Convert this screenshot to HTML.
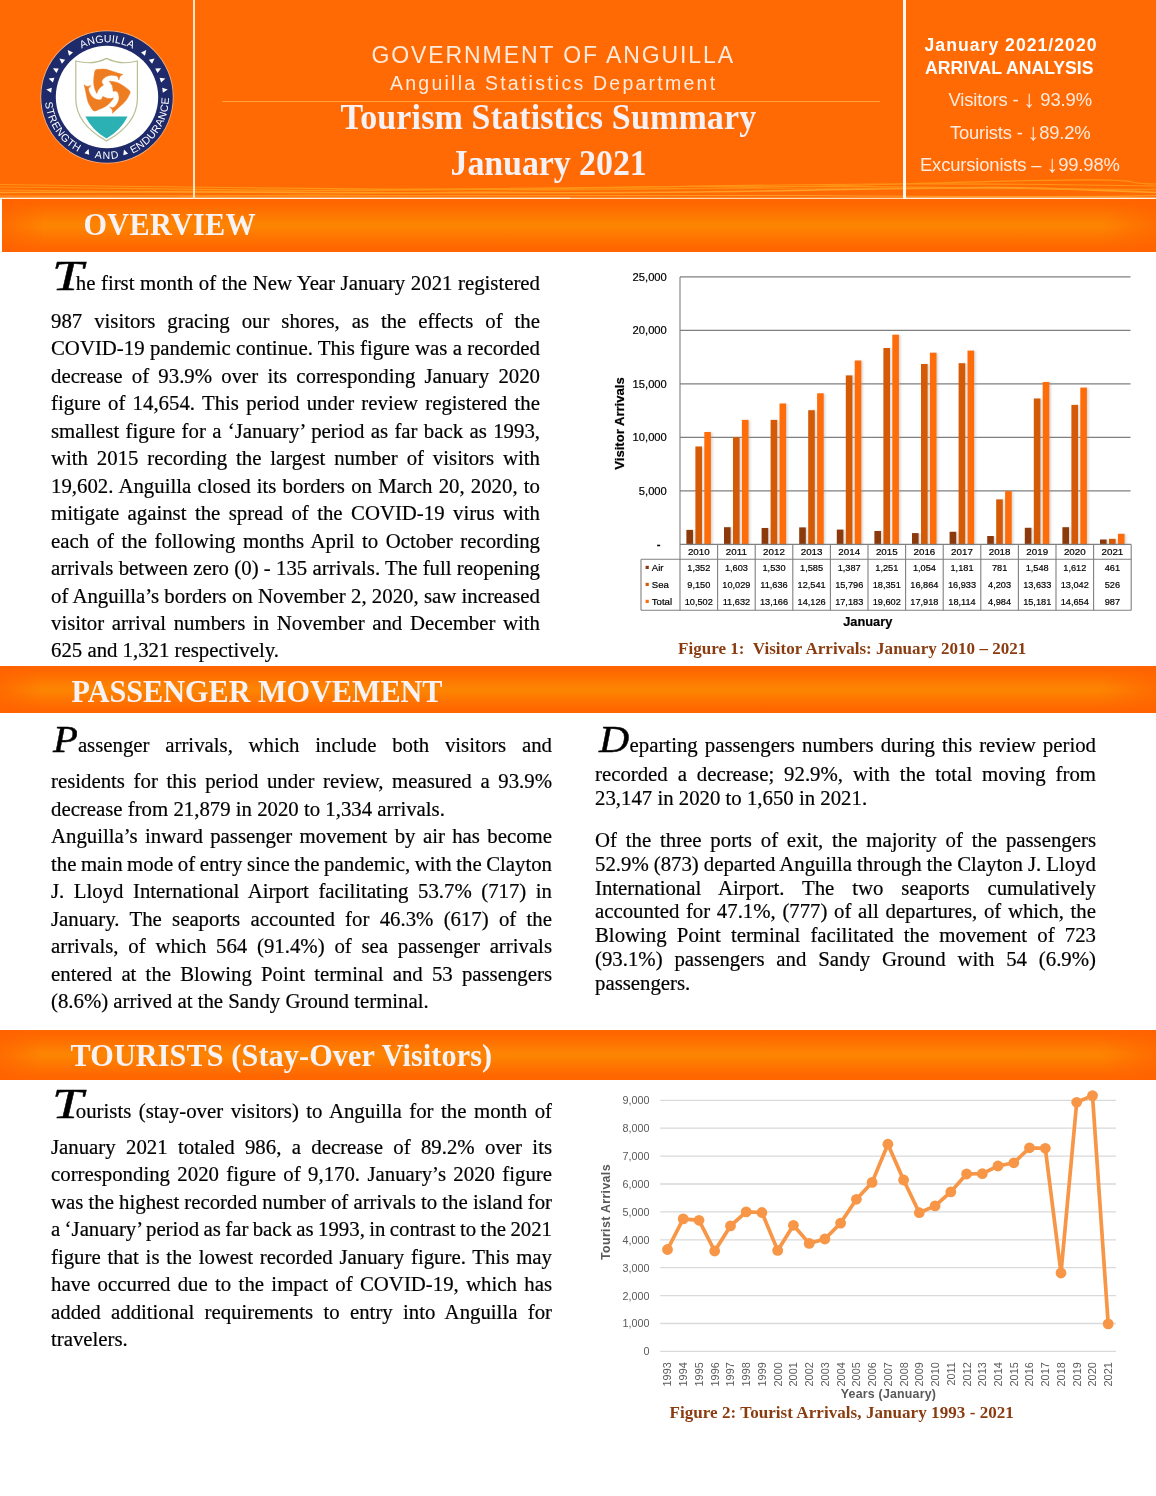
<!DOCTYPE html>
<html lang="en"><head><meta charset="utf-8"><title>Tourism Statistics Summary January 2021</title>
<style>
html,body{margin:0;padding:0;background:#fff;}
h1,h2,p,figure,figcaption{margin:0;padding:0;font-weight:normal;}
body{width:1156px;height:1496px;position:relative;overflow:hidden;font-family:"Liberation Serif",serif;color:#000;}
.abs{position:absolute;}
.hdr{left:0;top:0;width:1156px;height:199px;background:#FF6A05;}
.band{left:0;width:1156px;background:
  linear-gradient(to right, rgba(255,98,0,.7) 0px, rgba(255,98,0,0) 42px, rgba(255,98,0,0) 1100px, rgba(255,98,0,.7) 1156px),
  linear-gradient(to bottom, #FF6600 0%, #FF6600 8%, #FD8302 46%, #FD8302 54%, #FF6600 92%, #FF6600 100%);}
.bt{font-weight:bold !important;color:#F7F3F5;font-size:30.2px;line-height:36px;white-space:nowrap;}
.ln{display:block;font-size:20.8px;line-height:24px;height:24px;white-space:nowrap;-webkit-text-stroke:.2px #000;}
.dc{font-style:italic;-webkit-text-stroke:.45px #000;display:inline-block;line-height:0;transform-origin:0 100%;}
.sans{font-family:"Liberation Sans","DejaVu Sans",sans-serif;}
.w{color:#fff;white-space:nowrap;}
.ar{font-size:1.3em;line-height:0;position:relative;top:.06em}
.c1 text{stroke:#000;stroke-width:.2px}
.cap{font-weight:bold !important;color:#8A3C10;font-size:17px;line-height:20px;white-space:nowrap;}
</style></head>
<body>
<div class="abs hdr"></div>
<svg class="abs" style="left:0;top:170px" width="1156" height="32" viewBox="0 0 1156 32">
<g fill="none" stroke="#FF9C18" stroke-width="1.1" opacity=".85">
<path d="M0 17 C150 18 300 23 560 18.5 S 900 12 1156 16"/>
<path d="M0 20 C250 24 420 18 700 16.5 S 1050 21 1156 19"/>
<path d="M0 22.5 C300 20.5 520 25.5 760 21 S 1000 16 1156 22.5" stroke="#FFA62A" stroke-width="1.6"/>
<path d="M0 26 C200 26.5 500 23.5 800 25.5 S 1100 26.5 1156 25.5" stroke="#FFA62A"/>
<path d="M0 14.5 C300 19 600 23 900 14 S 1100 13.5 1156 14"/>
<path d="M180 26.5 C400 24 700 14 1156 20" opacity=".6"/>
</g>
<line x1="0" y1="28.5" x2="1156" y2="28.5" stroke="#FFD9A8" stroke-width="1.3"/>
<line x1="0" y1="28.5" x2="570" y2="28.5" stroke="#FFF3E2" stroke-width="1.3"/>
<line x1="905" y1="28.5" x2="1156" y2="28.5" stroke="#FFF3E2" stroke-width="1.3"/>
</svg>
<div class="abs" style="left:193px;top:0;width:2.1px;height:199px;background:#FFE4C2"></div>
<div class="abs" style="left:902.8px;top:0;width:3.1px;height:199px;background:#FFF9EE"></div>
<div class="abs" style="left:222px;top:100.5px;width:658px;height:1px;background:#FFA23C"></div>
<svg class="abs" style="left:37.0px;top:27.4px" width="140" height="140" viewBox="-70 -70 140 140">
<defs><path id="arcTop" d="M -54.60 0 A 54.60 54.60 0 0 1 54.60 0 A 54.60 54.60 0 0 1 -54.60 0"/>
<path id="arcBot" d="M -58.26 -21.21 A 62.00 62.00 0 0 0 58.26 21.21 A 62.00 62.00 0 0 0 -58.26 -21.21"/></defs>
<circle r="66.6" fill="#F4C9A8" opacity=".8"/>
<circle r="65.8" fill="#1E2A6A"/>
<circle r="51.2" fill="#FFFFFF"/>
<g font-family="Liberation Sans, sans-serif" font-size="10.6" fill="#FFFFFF" text-anchor="middle">
<text><textPath href="#arcTop" startOffset="85.77" textLength="53" lengthAdjust="spacing">ANGUILLA</textPath></text>
<text><textPath href="#arcBot" startOffset="57.89" textLength="62.0" lengthAdjust="spacing">STRENGTH</textPath></text>
<text><textPath href="#arcBot" startOffset="118.60" textLength="24.5" lengthAdjust="spacing">AND</textPath></text>
<text><textPath href="#arcBot" startOffset="180.17" textLength="70.5" lengthAdjust="spacing">ENDURANCE</textPath></text>
</g>
<g fill="#FFFFFF">
<path transform="translate(-37.41,-44.58) rotate(320.0)" d="M0 -3.00 L2.55 2.25 L-2.55 2.25 Z"/>
<path transform="translate(37.41,-44.58) rotate(400.0)" d="M0 -3.00 L2.55 2.25 L-2.55 2.25 Z"/>
<path transform="translate(-45.23,-36.63) rotate(309.0)" d="M0 -3.00 L2.55 2.25 L-2.55 2.25 Z"/>
<path transform="translate(45.23,-36.63) rotate(411.0)" d="M0 -3.00 L2.55 2.25 L-2.55 2.25 Z"/>
<path transform="translate(-51.39,-27.32) rotate(298.0)" d="M0 -3.00 L2.55 2.25 L-2.55 2.25 Z"/>
<path transform="translate(51.39,-27.32) rotate(422.0)" d="M0 -3.00 L2.55 2.25 L-2.55 2.25 Z"/>
<path transform="translate(-55.51,-17.50) rotate(287.5)" d="M0 -3.00 L2.55 2.25 L-2.55 2.25 Z"/>
<path transform="translate(55.51,-17.50) rotate(432.5)" d="M0 -3.00 L2.55 2.25 L-2.55 2.25 Z"/>
<path transform="translate(-57.77,-7.09) rotate(277.0)" d="M0 -3.00 L2.55 2.25 L-2.55 2.25 Z"/>
<path transform="translate(57.77,-7.09) rotate(443.0)" d="M0 -3.00 L2.55 2.25 L-2.55 2.25 Z"/>
<path transform="translate(-19.43,54.86) rotate(19.5)" d="M0 -3.00 L2.55 2.25 L-2.55 2.25 Z"/>
<path transform="translate(17.98,55.35) rotate(-18.0)" d="M0 -3.00 L2.55 2.25 L-2.55 2.25 Z"/>
</g>
<path d="M-31.2 -36 Q-14 -31.5 -0.5 -38.6 Q14 -31.5 30.4 -36 L30.4 2 Q30 27 -0.5 44 Q-31 27 -31.2 2 Z" fill="#FFFFFF" stroke="#B7BF92" stroke-width="1.2"/>
<path d="M-21.6 19.5 L20.6 19.5 Q14 33 -0.5 41.6 Q-15 33 -21.6 19.5 Z" fill="#2BB0B4"/>
<g fill="#EE7D22" stroke="#EE7D22" stroke-width=".5" stroke-linejoin="round" transform="translate(-0.5,-6.1)">
<path d="M14.9 -15.7 L16.4 -16.3 L12.1 -17.6 Q7.9 -19.0 3.7 -20.4 Q-0.6 -21.9 -3.7 -21.8 Q-6.8 -21.6 -9.2 -21.6 Q-11.6 -21.6 -11.9 -19.0 Q-12.3 -16.3 -12.7 -12.7 Q-13.0 -9.0 -12.6 -5.7 Q-12.1 -2.4 -10.9 0.1 L-9.7 2.5 L-8.8 0.1 Q-7.8 -2.4 -5.4 -4.2 L-3.0 -6.0 L-4.2 -7.5 Q-5.4 -9.0 -4.2 -10.8 Q-3.0 -12.7 -0.6 -14.2 Q1.8 -15.7 4.9 -15.7 Q7.9 -15.7 9.7 -15.1 Q11.5 -14.5 11.9 -12.7 L12.4 -10.9 L12.9 -13.0 Q13.4 -15.1 14.9 -15.7 Z" transform="rotate(0)"/>
<path d="M14.9 -15.7 L16.4 -16.3 L12.1 -17.6 Q7.9 -19.0 3.7 -20.4 Q-0.6 -21.9 -3.7 -21.8 Q-6.8 -21.6 -9.2 -21.6 Q-11.6 -21.6 -11.9 -19.0 Q-12.3 -16.3 -12.7 -12.7 Q-13.0 -9.0 -12.6 -5.7 Q-12.1 -2.4 -10.9 0.1 L-9.7 2.5 L-8.8 0.1 Q-7.8 -2.4 -5.4 -4.2 L-3.0 -6.0 L-4.2 -7.5 Q-5.4 -9.0 -4.2 -10.8 Q-3.0 -12.7 -0.6 -14.2 Q1.8 -15.7 4.9 -15.7 Q7.9 -15.7 9.7 -15.1 Q11.5 -14.5 11.9 -12.7 L12.4 -10.9 L12.9 -13.0 Q13.4 -15.1 14.9 -15.7 Z" transform="rotate(120)"/>
<path d="M14.9 -15.7 L16.4 -16.3 L12.1 -17.6 Q7.9 -19.0 3.7 -20.4 Q-0.6 -21.9 -3.7 -21.8 Q-6.8 -21.6 -9.2 -21.6 Q-11.6 -21.6 -11.9 -19.0 Q-12.3 -16.3 -12.7 -12.7 Q-13.0 -9.0 -12.6 -5.7 Q-12.1 -2.4 -10.9 0.1 L-9.7 2.5 L-8.8 0.1 Q-7.8 -2.4 -5.4 -4.2 L-3.0 -6.0 L-4.2 -7.5 Q-5.4 -9.0 -4.2 -10.8 Q-3.0 -12.7 -0.6 -14.2 Q1.8 -15.7 4.9 -15.7 Q7.9 -15.7 9.7 -15.1 Q11.5 -14.5 11.9 -12.7 L12.4 -10.9 L12.9 -13.0 Q13.4 -15.1 14.9 -15.7 Z" transform="rotate(240)"/>
</g>
</svg>
<div class="abs w sans" style="left:371.5px;top:39.7px;font-size:23.0px;line-height:30px;letter-spacing:1.90px;color:#FFEBDD">GOVERNMENT OF ANGUILLA</div>
<div class="abs w sans" style="left:390.0px;top:71.4px;font-size:19.5px;line-height:25px;letter-spacing:2.24px;color:#FFEBDD">Anguilla Statistics Department</div>
<h1 class="abs w" style="left:340.5px;top:95.6px;font-size:34.0px;line-height:44px;letter-spacing:0.13px;font-weight:bold;transform:scaleY(1.040);transform-origin:0 33.5px;color:#F6F1F4">Tourism Statistics Summary</h1>
<h1 class="abs w" style="left:450.5px;top:141.5px;font-size:34.0px;line-height:44px;letter-spacing:-0.10px;font-weight:bold;transform:scaleY(1.040);transform-origin:0 33.5px;color:#F6F1F4">January 2021</h1>
<div class="abs w sans" style="left:924.5px;top:34.4px;font-size:17.6px;line-height:23px;letter-spacing:1.03px;font-weight:bold;color:#fff">January 2021/2020</div>
<div class="abs w sans" style="left:925.0px;top:56.9px;font-size:17.6px;line-height:23px;letter-spacing:0.02px;font-weight:bold;color:#fff">ARRIVAL ANALYSIS</div>
<div class="abs w sans" style="left:948.5px;top:87.9px;font-size:18.4px;line-height:24px;letter-spacing:-0.12px;color:#FFEBDD">Visitors - <span class="ar">↓</span> 93.9%</div>
<div class="abs w sans" style="left:950.0px;top:120.6px;font-size:18.4px;line-height:24px;letter-spacing:-0.20px;color:#FFEBDD">Tourists - <span class="ar">↓</span>89.2%</div>
<div class="abs w sans" style="left:920.0px;top:153.0px;font-size:18.4px;line-height:24px;letter-spacing:-0.15px;color:#FFEBDD">Excursionists – <span class="ar">↓</span>99.98%</div>
<div class="abs band" style="top:198.6px;height:53.7px;left:1.5px;width:1154.5px"></div>
<h2 class="abs bt" style="left:83.6px;top:207.2px;letter-spacing:0.30px;transform:scaleY(1.08);transform-origin:0 28.2px">OVERVIEW</h2>
<div class="abs band" style="top:665.5px;height:47.5px;left:0.0px;width:1156.0px"></div>
<h2 class="abs bt" style="left:71.5px;top:673.6px;letter-spacing:0.00px;transform:scaleY(1.08);transform-origin:0 28.2px">PASSENGER MOVEMENT</h2>
<div class="abs band" style="top:1029.5px;height:50.0px;left:0.0px;width:1156.0px"></div>
<h2 class="abs bt" style="left:70.6px;top:1037.6px;letter-spacing:0.12px;transform:scaleY(1.08);transform-origin:0 28.2px">TOURISTS (Stay-Over Visitors)</h2>
<p>
<span class="abs ln" style="left:51.0px;top:271.3px;word-spacing:0.370px"><span><span class="dc" style="font-size:43.0px;width:23.4px;margin-left:1.4px"><span style="display:inline-block;transform:scaleX(1.30);transform-origin:0 0">T</span></span>he first month of the New Year January 2021 registered</span></span>
<span class="abs ln" style="left:51.0px;top:309.0px;word-spacing:6.760px"><span>987 visitors gracing our shores, as the effects of the</span></span>
<span class="abs ln" style="left:51.0px;top:336.4px;word-spacing:0.114px"><span>COVID-19 pandemic continue. This figure was a recorded</span></span>
<span class="abs ln" style="left:51.0px;top:363.9px;word-spacing:4.020px"><span>decrease of 93.9% over its corresponding January 2020</span></span>
<span class="abs ln" style="left:51.0px;top:391.3px;word-spacing:2.121px"><span>figure of 14,654. This period under review registered the</span></span>
<span class="abs ln" style="left:51.0px;top:418.8px;word-spacing:1.181px"><span>smallest figure for a ‘January’ period as far back as 1993,</span></span>
<span class="abs ln" style="left:51.0px;top:446.2px;word-spacing:3.701px"><span>with 2015 recording the largest number of visitors with</span></span>
<span class="abs ln" style="left:51.0px;top:473.7px;word-spacing:0.998px"><span>19,602. Anguilla closed its borders on March 20, 2020, to</span></span>
<span class="abs ln" style="left:51.0px;top:501.1px;word-spacing:3.223px"><span>mitigate against the spread of the COVID-19 virus with</span></span>
<span class="abs ln" style="left:51.0px;top:528.6px;word-spacing:2.359px"><span>each of the following months April to October recording</span></span>
<span class="abs ln" style="left:51.0px;top:556.0px;word-spacing:0.094px"><span>arrivals between zero (0) - 135 arrivals. The full reopening</span></span>
<span class="abs ln" style="left:51.0px;top:583.5px;word-spacing:0.047px"><span>of Anguilla’s borders on November 2, 2020, saw increased</span></span>
<span class="abs ln" style="left:51.0px;top:610.9px;word-spacing:2.451px"><span>visitor arrival numbers in November and December with</span></span>
<span class="abs ln" style="left:51.0px;top:638.4px;word-spacing:0.000px"><span>625 and 1,321 respectively.</span></span>
</p>
<p>
<span class="abs ln" style="left:51.0px;top:732.6px;word-spacing:10.578px"><span><span class="dc" style="font-size:37.0px;width:24.9px;margin-left:2.0px"><span style="display:inline-block;transform:scaleX(1.10);transform-origin:0 0">P</span></span>assenger arrivals, which include both visitors and</span></span>
<span class="abs ln" style="left:51.0px;top:769.3px;word-spacing:3.453px"><span>residents for this period under review, measured a 93.9%</span></span>
<span class="abs ln" style="left:51.0px;top:796.8px;word-spacing:0.000px"><span>decrease from 21,879 in 2020 to 1,334 arrivals.</span></span>
</p><p>
<span class="abs ln" style="left:51.0px;top:824.3px;word-spacing:2.185px"><span>Anguilla’s inward passenger movement by air has become</span></span>
<span class="abs ln" style="left:51.0px;top:851.8px;word-spacing:-0.666px"><span>the main mode of entry since the pandemic, with the Clayton</span></span>
<span class="abs ln" style="left:51.0px;top:879.3px;word-spacing:4.326px"><span>J. Lloyd International Airport facilitating 53.7% (717) in</span></span>
<span class="abs ln" style="left:51.0px;top:906.8px;word-spacing:5.092px"><span>January. The seaports accounted for 46.3% (617) of the</span></span>
<span class="abs ln" style="left:51.0px;top:934.3px;word-spacing:4.586px"><span>arrivals, of which 564 (91.4%) of sea passenger arrivals</span></span>
<span class="abs ln" style="left:51.0px;top:961.8px;word-spacing:4.002px"><span>entered at the Blowing Point terminal and 53 passengers</span></span>
<span class="abs ln" style="left:51.0px;top:989.3px;word-spacing:0.000px"><span>(8.6%) arrived at the Sandy Ground terminal.</span></span>
</p>
<p>
<span class="abs ln" style="left:595.0px;top:732.9px;word-spacing:1.885px"><span><span class="dc" style="font-size:37.0px;width:30.7px;margin-left:3.9px"><span style="display:inline-block;transform:scaleX(1.13);transform-origin:0 0">D</span></span>eparting passengers numbers during this review period</span></span>
<span class="abs ln" style="left:595.0px;top:762.0px;word-spacing:4.730px"><span>recorded a decrease; 92.9%, with the total moving from</span></span>
<span class="abs ln" style="left:595.0px;top:786.2px;word-spacing:0.000px"><span>23,147 in 2020 to 1,650 in 2021.</span></span>
</p><p>
<span class="abs ln" style="left:595.0px;top:827.9px;word-spacing:3.609px"><span>Of the three ports of exit, the majority of the passengers</span></span>
<span class="abs ln" style="left:595.0px;top:851.7px;word-spacing:-0.189px"><span>52.9% (873) departed Anguilla through the Clayton J. Lloyd</span></span>
<span class="abs ln" style="left:595.0px;top:875.6px;word-spacing:12.719px"><span>International Airport. The two seaports cumulatively</span></span>
<span class="abs ln" style="left:595.0px;top:899.4px;word-spacing:1.446px"><span>accounted for 47.1%, (777) of all departures, of which, the</span></span>
<span class="abs ln" style="left:595.0px;top:923.3px;word-spacing:4.984px"><span>Blowing Point terminal facilitated the movement of 723</span></span>
<span class="abs ln" style="left:595.0px;top:947.1px;word-spacing:6.634px"><span>(93.1%) passengers and Sandy Ground with 54 (6.9%)</span></span>
<span class="abs ln" style="left:595.0px;top:971.0px;word-spacing:0.000px"><span>passengers.</span></span>
</p>
<p>
<span class="abs ln" style="left:51.0px;top:1098.6px;word-spacing:2.342px"><span><span class="dc" style="font-size:43.0px;width:23.4px;margin-left:1.4px"><span style="display:inline-block;transform:scaleX(1.30);transform-origin:0 0">T</span></span>ourists (stay-over visitors) to Anguilla for the month of</span></span>
<span class="abs ln" style="left:51.0px;top:1135.0px;word-spacing:5.167px"><span>January 2021 totaled 986, a decrease of 89.2% over its</span></span>
<span class="abs ln" style="left:51.0px;top:1162.4px;word-spacing:2.181px"><span>corresponding 2020 figure of 9,170. January’s 2020 figure</span></span>
<span class="abs ln" style="left:51.0px;top:1189.9px;word-spacing:-0.028px"><span>was the highest recorded number of arrivals to the island for</span></span>
<span class="abs ln" style="left:51.0px;top:1217.3px;word-spacing:-0.809px"><span>a ‘January’ period as far back as 1993, in contrast to the 2021</span></span>
<span class="abs ln" style="left:51.0px;top:1244.8px;word-spacing:1.679px"><span>figure that is the lowest recorded January figure. This may</span></span>
<span class="abs ln" style="left:51.0px;top:1272.2px;word-spacing:2.151px"><span>have occurred due to the impact of COVID-19, which has</span></span>
<span class="abs ln" style="left:51.0px;top:1299.7px;word-spacing:5.152px"><span>added additional requirements to entry into Anguilla for</span></span>
<span class="abs ln" style="left:51.0px;top:1327.1px;word-spacing:0.000px"><span>travelers.</span></span>
</p>
<svg class="abs c1" style="left:0;top:255px" width="1156" height="410" viewBox="0 255 1156 410" font-family="Liberation Sans, sans-serif">
<defs><filter id="sh" x="-30%" y="-5%" width="180%" height="110%"><feGaussianBlur stdDeviation="1.1"/></filter></defs>
<line x1="680.0" y1="490.9" x2="1130.5" y2="490.9" stroke="#7F7F7F" stroke-width="1.1"/>
<line x1="680.0" y1="437.4" x2="1130.5" y2="437.4" stroke="#7F7F7F" stroke-width="1.1"/>
<line x1="680.0" y1="383.9" x2="1130.5" y2="383.9" stroke="#7F7F7F" stroke-width="1.1"/>
<line x1="680.0" y1="330.4" x2="1130.5" y2="330.4" stroke="#7F7F7F" stroke-width="1.1"/>
<line x1="680.0" y1="276.9" x2="1130.5" y2="276.9" stroke="#7F7F7F" stroke-width="1.1"/>
<text x="660.5" y="547.9" font-size="11.2" text-anchor="end" fill="#000" font-weight="bold">-</text>
<text x="666.8" y="494.9" font-size="11.2" text-anchor="end" fill="#000">5,000</text>
<text x="666.8" y="441.4" font-size="11.2" text-anchor="end" fill="#000">10,000</text>
<text x="666.8" y="387.9" font-size="11.2" text-anchor="end" fill="#000">15,000</text>
<text x="666.8" y="334.4" font-size="11.2" text-anchor="end" fill="#000">20,000</text>
<text x="666.8" y="280.9" font-size="11.2" text-anchor="end" fill="#000">25,000</text>
<text transform="translate(624,423.5) rotate(-90)" font-size="13.1" font-weight="bold" text-anchor="middle" fill="#000">Visitor Arrivals</text>
<rect x="688.0" y="530.4" width="6.6" height="14.5" fill="#9a9a9a" opacity=".4" filter="url(#sh)"/>
<rect x="697.0" y="447.0" width="6.6" height="97.9" fill="#9a9a9a" opacity=".4" filter="url(#sh)"/>
<rect x="705.9" y="432.5" width="6.6" height="112.4" fill="#9a9a9a" opacity=".4" filter="url(#sh)"/>
<rect x="686.4" y="529.9" width="6.6" height="14.5" fill="#8C3A0C"/>
<rect x="695.4" y="446.5" width="6.6" height="97.9" fill="#D45A06"/>
<rect x="704.3" y="432.0" width="6.6" height="112.4" fill="#FF6C0A"/>
<rect x="725.6" y="527.7" width="6.6" height="17.2" fill="#9a9a9a" opacity=".4" filter="url(#sh)"/>
<rect x="734.6" y="437.6" width="6.6" height="107.3" fill="#9a9a9a" opacity=".4" filter="url(#sh)"/>
<rect x="743.5" y="420.4" width="6.6" height="124.5" fill="#9a9a9a" opacity=".4" filter="url(#sh)"/>
<rect x="724.0" y="527.2" width="6.6" height="17.2" fill="#8C3A0C"/>
<rect x="733.0" y="437.1" width="6.6" height="107.3" fill="#D45A06"/>
<rect x="741.9" y="419.9" width="6.6" height="124.5" fill="#FF6C0A"/>
<rect x="763.2" y="528.5" width="6.6" height="16.4" fill="#9a9a9a" opacity=".4" filter="url(#sh)"/>
<rect x="772.2" y="420.4" width="6.6" height="124.5" fill="#9a9a9a" opacity=".4" filter="url(#sh)"/>
<rect x="781.1" y="404.0" width="6.6" height="140.9" fill="#9a9a9a" opacity=".4" filter="url(#sh)"/>
<rect x="761.6" y="528.0" width="6.6" height="16.4" fill="#8C3A0C"/>
<rect x="770.6" y="419.9" width="6.6" height="124.5" fill="#D45A06"/>
<rect x="779.5" y="403.5" width="6.6" height="140.9" fill="#FF6C0A"/>
<rect x="800.8" y="527.9" width="6.6" height="17.0" fill="#9a9a9a" opacity=".4" filter="url(#sh)"/>
<rect x="809.8" y="410.7" width="6.6" height="134.2" fill="#9a9a9a" opacity=".4" filter="url(#sh)"/>
<rect x="818.7" y="393.8" width="6.6" height="151.1" fill="#9a9a9a" opacity=".4" filter="url(#sh)"/>
<rect x="799.2" y="527.4" width="6.6" height="17.0" fill="#8C3A0C"/>
<rect x="808.2" y="410.2" width="6.6" height="134.2" fill="#D45A06"/>
<rect x="817.1" y="393.3" width="6.6" height="151.1" fill="#FF6C0A"/>
<rect x="838.4" y="530.1" width="6.6" height="14.8" fill="#9a9a9a" opacity=".4" filter="url(#sh)"/>
<rect x="847.4" y="375.9" width="6.6" height="169.0" fill="#9a9a9a" opacity=".4" filter="url(#sh)"/>
<rect x="856.3" y="361.0" width="6.6" height="183.9" fill="#9a9a9a" opacity=".4" filter="url(#sh)"/>
<rect x="836.8" y="529.6" width="6.6" height="14.8" fill="#8C3A0C"/>
<rect x="845.8" y="375.4" width="6.6" height="169.0" fill="#D45A06"/>
<rect x="854.7" y="360.5" width="6.6" height="183.9" fill="#FF6C0A"/>
<rect x="876.0" y="531.5" width="6.6" height="13.4" fill="#9a9a9a" opacity=".4" filter="url(#sh)"/>
<rect x="885.0" y="348.5" width="6.6" height="196.4" fill="#9a9a9a" opacity=".4" filter="url(#sh)"/>
<rect x="893.9" y="335.2" width="6.6" height="209.7" fill="#9a9a9a" opacity=".4" filter="url(#sh)"/>
<rect x="874.4" y="531.0" width="6.6" height="13.4" fill="#8C3A0C"/>
<rect x="883.4" y="348.0" width="6.6" height="196.4" fill="#D45A06"/>
<rect x="892.3" y="334.7" width="6.6" height="209.7" fill="#FF6C0A"/>
<rect x="913.6" y="533.6" width="6.6" height="11.3" fill="#9a9a9a" opacity=".4" filter="url(#sh)"/>
<rect x="922.6" y="364.5" width="6.6" height="180.4" fill="#9a9a9a" opacity=".4" filter="url(#sh)"/>
<rect x="931.5" y="353.2" width="6.6" height="191.7" fill="#9a9a9a" opacity=".4" filter="url(#sh)"/>
<rect x="912.0" y="533.1" width="6.6" height="11.3" fill="#8C3A0C"/>
<rect x="921.0" y="364.0" width="6.6" height="180.4" fill="#D45A06"/>
<rect x="929.9" y="352.7" width="6.6" height="191.7" fill="#FF6C0A"/>
<rect x="951.2" y="532.3" width="6.6" height="12.6" fill="#9a9a9a" opacity=".4" filter="url(#sh)"/>
<rect x="960.2" y="363.7" width="6.6" height="181.2" fill="#9a9a9a" opacity=".4" filter="url(#sh)"/>
<rect x="969.1" y="351.1" width="6.6" height="193.8" fill="#9a9a9a" opacity=".4" filter="url(#sh)"/>
<rect x="949.6" y="531.8" width="6.6" height="12.6" fill="#8C3A0C"/>
<rect x="958.6" y="363.2" width="6.6" height="181.2" fill="#D45A06"/>
<rect x="967.5" y="350.6" width="6.6" height="193.8" fill="#FF6C0A"/>
<rect x="988.8" y="536.5" width="6.6" height="8.4" fill="#9a9a9a" opacity=".4" filter="url(#sh)"/>
<rect x="997.8" y="499.9" width="6.6" height="45.0" fill="#9a9a9a" opacity=".4" filter="url(#sh)"/>
<rect x="1006.7" y="491.6" width="6.6" height="53.3" fill="#9a9a9a" opacity=".4" filter="url(#sh)"/>
<rect x="987.2" y="536.0" width="6.6" height="8.4" fill="#8C3A0C"/>
<rect x="996.2" y="499.4" width="6.6" height="45.0" fill="#D45A06"/>
<rect x="1005.1" y="491.1" width="6.6" height="53.3" fill="#FF6C0A"/>
<rect x="1026.4" y="528.3" width="6.6" height="16.6" fill="#9a9a9a" opacity=".4" filter="url(#sh)"/>
<rect x="1035.4" y="399.0" width="6.6" height="145.9" fill="#9a9a9a" opacity=".4" filter="url(#sh)"/>
<rect x="1044.3" y="382.5" width="6.6" height="162.4" fill="#9a9a9a" opacity=".4" filter="url(#sh)"/>
<rect x="1024.8" y="527.8" width="6.6" height="16.6" fill="#8C3A0C"/>
<rect x="1033.8" y="398.5" width="6.6" height="145.9" fill="#D45A06"/>
<rect x="1042.7" y="382.0" width="6.6" height="162.4" fill="#FF6C0A"/>
<rect x="1064.0" y="527.7" width="6.6" height="17.2" fill="#9a9a9a" opacity=".4" filter="url(#sh)"/>
<rect x="1073.0" y="405.4" width="6.6" height="139.5" fill="#9a9a9a" opacity=".4" filter="url(#sh)"/>
<rect x="1081.9" y="388.1" width="6.6" height="156.8" fill="#9a9a9a" opacity=".4" filter="url(#sh)"/>
<rect x="1062.4" y="527.2" width="6.6" height="17.2" fill="#8C3A0C"/>
<rect x="1071.4" y="404.9" width="6.6" height="139.5" fill="#D45A06"/>
<rect x="1080.3" y="387.6" width="6.6" height="156.8" fill="#FF6C0A"/>
<rect x="1101.6" y="540.0" width="6.6" height="4.9" fill="#9a9a9a" opacity=".4" filter="url(#sh)"/>
<rect x="1110.6" y="539.3" width="6.6" height="5.6" fill="#9a9a9a" opacity=".4" filter="url(#sh)"/>
<rect x="1119.5" y="534.3" width="6.6" height="10.6" fill="#9a9a9a" opacity=".4" filter="url(#sh)"/>
<rect x="1100.0" y="539.5" width="6.6" height="4.9" fill="#8C3A0C"/>
<rect x="1109.0" y="538.8" width="6.6" height="5.6" fill="#D45A06"/>
<rect x="1117.9" y="533.8" width="6.6" height="10.6" fill="#FF6C0A"/>
<line x1="680.0" y1="277" x2="680.0" y2="610.2" stroke="#7F7F7F" stroke-width="1.1"/>
<line x1="680.0" y1="544.4" x2="1131.2" y2="544.4" stroke="#7F7F7F" stroke-width="1.1"/>
<line x1="641.0" y1="559.2" x2="1131.2" y2="559.2" stroke="#7F7F7F" stroke-width="1.1"/>
<line x1="641.0" y1="610.2" x2="1131.2" y2="610.2" stroke="#7F7F7F" stroke-width="1.1"/>
<line x1="641.0" y1="559.2" x2="641.0" y2="610.2" stroke="#7F7F7F" stroke-width="1.1"/>
<line x1="717.6" y1="544.4" x2="717.6" y2="610.2" stroke="#7F7F7F" stroke-width="1.1"/>
<line x1="755.2" y1="544.4" x2="755.2" y2="610.2" stroke="#7F7F7F" stroke-width="1.1"/>
<line x1="792.8" y1="544.4" x2="792.8" y2="610.2" stroke="#7F7F7F" stroke-width="1.1"/>
<line x1="830.4" y1="544.4" x2="830.4" y2="610.2" stroke="#7F7F7F" stroke-width="1.1"/>
<line x1="868.0" y1="544.4" x2="868.0" y2="610.2" stroke="#7F7F7F" stroke-width="1.1"/>
<line x1="905.6" y1="544.4" x2="905.6" y2="610.2" stroke="#7F7F7F" stroke-width="1.1"/>
<line x1="943.2" y1="544.4" x2="943.2" y2="610.2" stroke="#7F7F7F" stroke-width="1.1"/>
<line x1="980.8" y1="544.4" x2="980.8" y2="610.2" stroke="#7F7F7F" stroke-width="1.1"/>
<line x1="1018.4" y1="544.4" x2="1018.4" y2="610.2" stroke="#7F7F7F" stroke-width="1.1"/>
<line x1="1056.0" y1="544.4" x2="1056.0" y2="610.2" stroke="#7F7F7F" stroke-width="1.1"/>
<line x1="1093.6" y1="544.4" x2="1093.6" y2="610.2" stroke="#7F7F7F" stroke-width="1.1"/>
<line x1="1131.2" y1="544.4" x2="1131.2" y2="610.2" stroke="#7F7F7F" stroke-width="1.1"/>
<text x="698.8" y="555.3" font-size="9.8" text-anchor="middle">2010</text>
<text x="698.8" y="571.0" font-size="9.2" text-anchor="middle">1,352</text>
<text x="698.8" y="588.0" font-size="9.2" text-anchor="middle">9,150</text>
<text x="698.8" y="605.0" font-size="9.2" text-anchor="middle">10,502</text>
<text x="736.4" y="555.3" font-size="9.8" text-anchor="middle">2011</text>
<text x="736.4" y="571.0" font-size="9.2" text-anchor="middle">1,603</text>
<text x="736.4" y="588.0" font-size="9.2" text-anchor="middle">10,029</text>
<text x="736.4" y="605.0" font-size="9.2" text-anchor="middle">11,632</text>
<text x="774.0" y="555.3" font-size="9.8" text-anchor="middle">2012</text>
<text x="774.0" y="571.0" font-size="9.2" text-anchor="middle">1,530</text>
<text x="774.0" y="588.0" font-size="9.2" text-anchor="middle">11,636</text>
<text x="774.0" y="605.0" font-size="9.2" text-anchor="middle">13,166</text>
<text x="811.6" y="555.3" font-size="9.8" text-anchor="middle">2013</text>
<text x="811.6" y="571.0" font-size="9.2" text-anchor="middle">1,585</text>
<text x="811.6" y="588.0" font-size="9.2" text-anchor="middle">12,541</text>
<text x="811.6" y="605.0" font-size="9.2" text-anchor="middle">14,126</text>
<text x="849.2" y="555.3" font-size="9.8" text-anchor="middle">2014</text>
<text x="849.2" y="571.0" font-size="9.2" text-anchor="middle">1,387</text>
<text x="849.2" y="588.0" font-size="9.2" text-anchor="middle">15,796</text>
<text x="849.2" y="605.0" font-size="9.2" text-anchor="middle">17,183</text>
<text x="886.8" y="555.3" font-size="9.8" text-anchor="middle">2015</text>
<text x="886.8" y="571.0" font-size="9.2" text-anchor="middle">1,251</text>
<text x="886.8" y="588.0" font-size="9.2" text-anchor="middle">18,351</text>
<text x="886.8" y="605.0" font-size="9.2" text-anchor="middle">19,602</text>
<text x="924.4" y="555.3" font-size="9.8" text-anchor="middle">2016</text>
<text x="924.4" y="571.0" font-size="9.2" text-anchor="middle">1,054</text>
<text x="924.4" y="588.0" font-size="9.2" text-anchor="middle">16,864</text>
<text x="924.4" y="605.0" font-size="9.2" text-anchor="middle">17,918</text>
<text x="962.0" y="555.3" font-size="9.8" text-anchor="middle">2017</text>
<text x="962.0" y="571.0" font-size="9.2" text-anchor="middle">1,181</text>
<text x="962.0" y="588.0" font-size="9.2" text-anchor="middle">16,933</text>
<text x="962.0" y="605.0" font-size="9.2" text-anchor="middle">18,114</text>
<text x="999.6" y="555.3" font-size="9.8" text-anchor="middle">2018</text>
<text x="999.6" y="571.0" font-size="9.2" text-anchor="middle">781</text>
<text x="999.6" y="588.0" font-size="9.2" text-anchor="middle">4,203</text>
<text x="999.6" y="605.0" font-size="9.2" text-anchor="middle">4,984</text>
<text x="1037.2" y="555.3" font-size="9.8" text-anchor="middle">2019</text>
<text x="1037.2" y="571.0" font-size="9.2" text-anchor="middle">1,548</text>
<text x="1037.2" y="588.0" font-size="9.2" text-anchor="middle">13,633</text>
<text x="1037.2" y="605.0" font-size="9.2" text-anchor="middle">15,181</text>
<text x="1074.8" y="555.3" font-size="9.8" text-anchor="middle">2020</text>
<text x="1074.8" y="571.0" font-size="9.2" text-anchor="middle">1,612</text>
<text x="1074.8" y="588.0" font-size="9.2" text-anchor="middle">13,042</text>
<text x="1074.8" y="605.0" font-size="9.2" text-anchor="middle">14,654</text>
<text x="1112.4" y="555.3" font-size="9.8" text-anchor="middle">2021</text>
<text x="1112.4" y="571.0" font-size="9.2" text-anchor="middle">461</text>
<text x="1112.4" y="588.0" font-size="9.2" text-anchor="middle">526</text>
<text x="1112.4" y="605.0" font-size="9.2" text-anchor="middle">987</text>
<rect x="645.6" y="565.8" width="3.2" height="3.2" fill="#8C3A0C"/>
<text x="651.8" y="571.0" font-size="9.6">Air</text>
<rect x="645.6" y="582.8" width="3.2" height="3.2" fill="#D45A06"/>
<text x="651.8" y="588.0" font-size="9.6">Sea</text>
<rect x="645.6" y="599.8" width="3.2" height="3.2" fill="#FF6C0A"/>
<text x="651.8" y="605.0" font-size="9.6">Total</text>
<text x="867.8" y="626.3" font-size="12.8" font-weight="bold" text-anchor="middle">January</text>
</svg>
<p class="abs cap" style="left:678.0px;top:638.9px;letter-spacing:0.03px">Figure 1:&nbsp; Visitor Arrivals: January 2010 – 2021</p>
<svg class="abs" style="left:0;top:1082px" width="1156" height="330" viewBox="0 1082 1156 330" font-family="Liberation Sans, sans-serif">
<line x1="660.2" y1="1351.4" x2="1116.0" y2="1351.4" stroke="#D9D9D9" stroke-width="1.3"/>
<text x="649.6" y="1355.3" font-size="10.8" text-anchor="end" fill="#595959">0</text>
<line x1="660.2" y1="1323.5" x2="1116.0" y2="1323.5" stroke="#D9D9D9" stroke-width="1.3"/>
<text x="649.6" y="1327.4" font-size="10.8" text-anchor="end" fill="#595959">1,000</text>
<line x1="660.2" y1="1295.6" x2="1116.0" y2="1295.6" stroke="#D9D9D9" stroke-width="1.3"/>
<text x="649.6" y="1299.5" font-size="10.8" text-anchor="end" fill="#595959">2,000</text>
<line x1="660.2" y1="1267.7" x2="1116.0" y2="1267.7" stroke="#D9D9D9" stroke-width="1.3"/>
<text x="649.6" y="1271.6" font-size="10.8" text-anchor="end" fill="#595959">3,000</text>
<line x1="660.2" y1="1239.8" x2="1116.0" y2="1239.8" stroke="#D9D9D9" stroke-width="1.3"/>
<text x="649.6" y="1243.7" font-size="10.8" text-anchor="end" fill="#595959">4,000</text>
<line x1="660.2" y1="1211.9" x2="1116.0" y2="1211.9" stroke="#D9D9D9" stroke-width="1.3"/>
<text x="649.6" y="1215.8" font-size="10.8" text-anchor="end" fill="#595959">5,000</text>
<line x1="660.2" y1="1184.0" x2="1116.0" y2="1184.0" stroke="#D9D9D9" stroke-width="1.3"/>
<text x="649.6" y="1187.9" font-size="10.8" text-anchor="end" fill="#595959">6,000</text>
<line x1="660.2" y1="1156.1" x2="1116.0" y2="1156.1" stroke="#D9D9D9" stroke-width="1.3"/>
<text x="649.6" y="1160.0" font-size="10.8" text-anchor="end" fill="#595959">7,000</text>
<line x1="660.2" y1="1128.2" x2="1116.0" y2="1128.2" stroke="#D9D9D9" stroke-width="1.3"/>
<text x="649.6" y="1132.1" font-size="10.8" text-anchor="end" fill="#595959">8,000</text>
<line x1="660.2" y1="1100.3" x2="1116.0" y2="1100.3" stroke="#D9D9D9" stroke-width="1.3"/>
<text x="649.6" y="1104.2" font-size="10.8" text-anchor="end" fill="#595959">9,000</text>
<polyline fill="none" stroke="#F79646" stroke-width="3.7" stroke-linejoin="round" stroke-linecap="round" points="667.5,1249.5 683.2,1218.9 699.0,1220.3 714.7,1251.0 730.5,1225.9 746.2,1211.9 761.9,1212.5 777.7,1250.4 793.4,1225.3 809.2,1243.4 824.9,1239.0 840.6,1223.1 856.4,1199.3 872.1,1182.4 887.9,1144.2 903.6,1180.0 919.3,1212.7 935.1,1205.9 950.8,1191.9 966.6,1174.0 982.3,1173.7 998.0,1166.0 1013.8,1162.8 1029.5,1147.8 1045.3,1148.3 1061.0,1273.0 1076.7,1102.3 1092.5,1095.6 1108.2,1323.9"/>
<circle cx="667.5" cy="1249.5" r="5.4" fill="#F79646"/>
<circle cx="683.2" cy="1218.9" r="5.4" fill="#F79646"/>
<circle cx="699.0" cy="1220.3" r="5.4" fill="#F79646"/>
<circle cx="714.7" cy="1251.0" r="5.4" fill="#F79646"/>
<circle cx="730.5" cy="1225.9" r="5.4" fill="#F79646"/>
<circle cx="746.2" cy="1211.9" r="5.4" fill="#F79646"/>
<circle cx="761.9" cy="1212.5" r="5.4" fill="#F79646"/>
<circle cx="777.7" cy="1250.4" r="5.4" fill="#F79646"/>
<circle cx="793.4" cy="1225.3" r="5.4" fill="#F79646"/>
<circle cx="809.2" cy="1243.4" r="5.4" fill="#F79646"/>
<circle cx="824.9" cy="1239.0" r="5.4" fill="#F79646"/>
<circle cx="840.6" cy="1223.1" r="5.4" fill="#F79646"/>
<circle cx="856.4" cy="1199.3" r="5.4" fill="#F79646"/>
<circle cx="872.1" cy="1182.4" r="5.4" fill="#F79646"/>
<circle cx="887.9" cy="1144.2" r="5.4" fill="#F79646"/>
<circle cx="903.6" cy="1180.0" r="5.4" fill="#F79646"/>
<circle cx="919.3" cy="1212.7" r="5.4" fill="#F79646"/>
<circle cx="935.1" cy="1205.9" r="5.4" fill="#F79646"/>
<circle cx="950.8" cy="1191.9" r="5.4" fill="#F79646"/>
<circle cx="966.6" cy="1174.0" r="5.4" fill="#F79646"/>
<circle cx="982.3" cy="1173.7" r="5.4" fill="#F79646"/>
<circle cx="998.0" cy="1166.0" r="5.4" fill="#F79646"/>
<circle cx="1013.8" cy="1162.8" r="5.4" fill="#F79646"/>
<circle cx="1029.5" cy="1147.8" r="5.4" fill="#F79646"/>
<circle cx="1045.3" cy="1148.3" r="5.4" fill="#F79646"/>
<circle cx="1061.0" cy="1273.0" r="5.4" fill="#F79646"/>
<circle cx="1076.7" cy="1102.3" r="5.4" fill="#F79646"/>
<circle cx="1092.5" cy="1095.6" r="5.4" fill="#F79646"/>
<circle cx="1108.2" cy="1323.9" r="5.4" fill="#F79646"/>
<text transform="translate(671.4,1362.2) rotate(-90)" font-size="10.9" text-anchor="end" fill="#595959">1993</text>
<text transform="translate(687.1,1362.2) rotate(-90)" font-size="10.9" text-anchor="end" fill="#595959">1994</text>
<text transform="translate(702.9,1362.2) rotate(-90)" font-size="10.9" text-anchor="end" fill="#595959">1995</text>
<text transform="translate(718.6,1362.2) rotate(-90)" font-size="10.9" text-anchor="end" fill="#595959">1996</text>
<text transform="translate(734.4,1362.2) rotate(-90)" font-size="10.9" text-anchor="end" fill="#595959">1997</text>
<text transform="translate(750.1,1362.2) rotate(-90)" font-size="10.9" text-anchor="end" fill="#595959">1998</text>
<text transform="translate(765.8,1362.2) rotate(-90)" font-size="10.9" text-anchor="end" fill="#595959">1999</text>
<text transform="translate(781.6,1362.2) rotate(-90)" font-size="10.9" text-anchor="end" fill="#595959">2000</text>
<text transform="translate(797.3,1362.2) rotate(-90)" font-size="10.9" text-anchor="end" fill="#595959">2001</text>
<text transform="translate(813.1,1362.2) rotate(-90)" font-size="10.9" text-anchor="end" fill="#595959">2002</text>
<text transform="translate(828.8,1362.2) rotate(-90)" font-size="10.9" text-anchor="end" fill="#595959">2003</text>
<text transform="translate(844.5,1362.2) rotate(-90)" font-size="10.9" text-anchor="end" fill="#595959">2004</text>
<text transform="translate(860.3,1362.2) rotate(-90)" font-size="10.9" text-anchor="end" fill="#595959">2005</text>
<text transform="translate(876.0,1362.2) rotate(-90)" font-size="10.9" text-anchor="end" fill="#595959">2006</text>
<text transform="translate(891.8,1362.2) rotate(-90)" font-size="10.9" text-anchor="end" fill="#595959">2007</text>
<text transform="translate(907.5,1362.2) rotate(-90)" font-size="10.9" text-anchor="end" fill="#595959">2008</text>
<text transform="translate(923.2,1362.2) rotate(-90)" font-size="10.9" text-anchor="end" fill="#595959">2009</text>
<text transform="translate(939.0,1362.2) rotate(-90)" font-size="10.9" text-anchor="end" fill="#595959">2010</text>
<text transform="translate(954.7,1362.2) rotate(-90)" font-size="10.9" text-anchor="end" fill="#595959">2011</text>
<text transform="translate(970.5,1362.2) rotate(-90)" font-size="10.9" text-anchor="end" fill="#595959">2012</text>
<text transform="translate(986.2,1362.2) rotate(-90)" font-size="10.9" text-anchor="end" fill="#595959">2013</text>
<text transform="translate(1001.9,1362.2) rotate(-90)" font-size="10.9" text-anchor="end" fill="#595959">2014</text>
<text transform="translate(1017.7,1362.2) rotate(-90)" font-size="10.9" text-anchor="end" fill="#595959">2015</text>
<text transform="translate(1033.4,1362.2) rotate(-90)" font-size="10.9" text-anchor="end" fill="#595959">2016</text>
<text transform="translate(1049.2,1362.2) rotate(-90)" font-size="10.9" text-anchor="end" fill="#595959">2017</text>
<text transform="translate(1064.9,1362.2) rotate(-90)" font-size="10.9" text-anchor="end" fill="#595959">2018</text>
<text transform="translate(1080.6,1362.2) rotate(-90)" font-size="10.9" text-anchor="end" fill="#595959">2019</text>
<text transform="translate(1096.4,1362.2) rotate(-90)" font-size="10.9" text-anchor="end" fill="#595959">2020</text>
<text transform="translate(1112.1,1362.2) rotate(-90)" font-size="10.9" text-anchor="end" fill="#595959">2021</text>
<text transform="translate(610.2,1212) rotate(-90)" font-size="12.4" font-weight="bold" text-anchor="middle" fill="#595959" letter-spacing="0.35">Tourist Arrivals</text>
<text x="888.5" y="1397.8" font-size="12.4" font-weight="bold" text-anchor="middle" fill="#595959" letter-spacing="0.2">Years (January)</text>
</svg>
<p class="abs cap" style="left:669.5px;top:1403.1px;letter-spacing:0.06px">Figure 2: Tourist Arrivals, January 1993 - 2021</p>
</body></html>
